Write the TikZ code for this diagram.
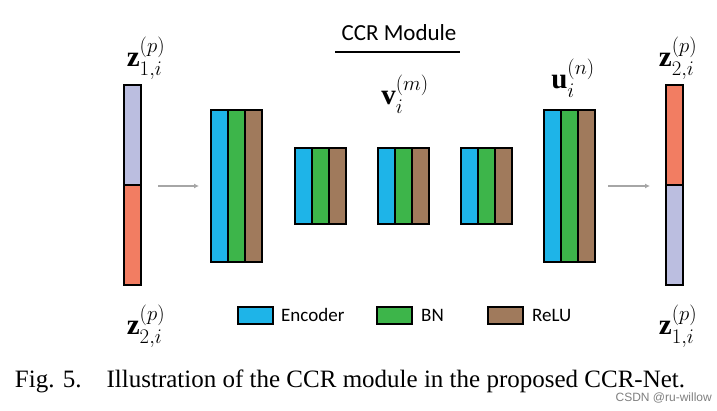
\documentclass[tikz,border=0pt]{standalone}
\usepackage{fontspec}
\usepackage{amsmath}
\setmainfont{Liberation Serif}
\newfontfamily\hand{Carlito}
\newfontfamily\wm{Liberation Sans}
\begin{document}
\begin{tikzpicture}[x=1pt,y=-1pt,
  cell/.style={draw,line width=1.6pt},
  arr/.style={draw=gray!70,line width=1.3pt,-{Latex[length=5pt,width=5pt]}},
  lbl/.style={font=\fontsize{29}{32}\selectfont,inner sep=0pt},
  leg/.style={font=\hand\fontsize{19}{22}\selectfont,anchor=west,inner sep=0pt}]
\usetikzlibrary{arrows.meta}
\useasboundingbox[fill=white] (0,0) rectangle (717,411);
\definecolor{cblue}{HTML}{1EB4E8}
\definecolor{cgreen}{HTML}{3DB54A}
\definecolor{cbrown}{HTML}{A07A5C}
\definecolor{clav}{HTML}{BBBEE0}
\definecolor{csal}{HTML}{F27D62}
% bars
\draw[cell,fill=clav] (124,85) rectangle (141,185);
\draw[cell,fill=csal] (124,185) rectangle (141,285);
\draw[cell,fill=csal] (666,85) rectangle (683,185);
\draw[cell,fill=clav] (666,185) rectangle (683,285);
\coordinate (la) at (158,186); \coordinate (lb) at (199,186);
\coordinate (ra) at (608,186); \coordinate (rb) at (650,186);
\draw[arr] (la) -- (lb);
\draw[arr] (ra) -- (rb);
% blocks
\foreach \x/\t/\b in {211/110/262, 295/148/224, 378/148/224, 461/148/224, 544/110/262}{
  \draw[cell,fill=cblue] (\x,\t) rectangle ++(17,\b-\t);
  \draw[cell,fill=cgreen] (\x+17,\t) rectangle ++(17,\b-\t);
  \draw[cell,fill=cbrown] (\x+34,\t) rectangle ++(17,\b-\t);
}
% title
\node[font=\hand\fontsize{23}{26}\selectfont,inner sep=0pt] (title) at (399,33) {CCR Module};
\draw[line width=1.8pt] (335,52) -- (460,52);
% labels
\node[lbl] (z1t) at (146,58) {$\mathbf{z}_{1,i}^{(p)}$};
\node[lbl] (z2b) at (146,326) {$\mathbf{z}_{2,i}^{(p)}$};
\node[lbl] (z2t) at (678,58) {$\mathbf{z}_{2,i}^{(p)}$};
\node[lbl] (z1b) at (678,326) {$\mathbf{z}_{1,i}^{(p)}$};
\node[lbl] (v) at (405,94) {$\mathbf{v}_{i}^{(m)}$};
\node[lbl] (u) at (573,78) {$\mathbf{u}_{i}^{(n)}$};
% legend
\draw[cell,fill=cblue] (238,307) rectangle (273,324);
\node[leg] (le) at (281,315) {Encoder};
\draw[cell,fill=cgreen] (377,307) rectangle (412,324);
\node[leg] (lb2) at (421,315) {BN};
\draw[cell,fill=cbrown] (488,307) rectangle (523,324);
\node[leg] (lr) at (532,315) {ReLU};
% caption
\node[font=\fontsize{25}{28}\selectfont,inner sep=0pt] (cap) at (350,381) {Fig. 5.\quad Illustration of the CCR module in the proposed CCR-Net.};
\node[font=\wm\fontsize{12}{14}\selectfont,text=gray,anchor=east,inner sep=0pt] (wm) at (712,398) {CSDN @ru-willow};
\end{tikzpicture}
\end{document}
